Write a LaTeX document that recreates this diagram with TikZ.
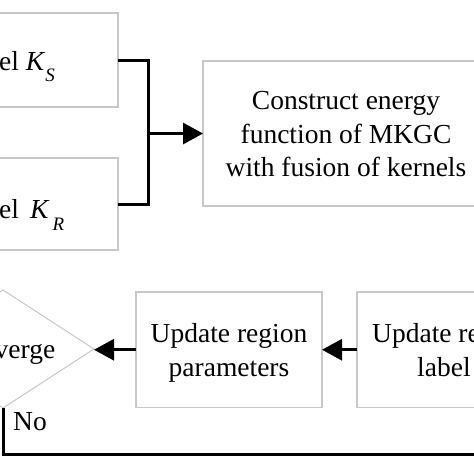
\documentclass[tikz,border=0pt]{standalone}
\usepackage{fontspec}
\setmainfont{Liberation Serif}
\usetikzlibrary{arrows.meta,shapes.geometric}
\definecolor{boxgray}{HTML}{C8C8C8}
\begin{document}
\begin{tikzpicture}[x=1pt,y=-1pt,
  box/.style={draw=boxgray,line width=1.3pt,inner sep=0pt,outer sep=0pt},
  conn/.style={line width=3pt},
  arr/.style={conn,-{Triangle[length=20pt,width=21pt]}},
  txt/.style={font=\fontsize{27.5}{33}\selectfont,inner sep=0pt,text=black},
  subtxt/.style={}]
\useasboundingbox (0,0) rectangle (474,474);
\clip (0,0) rectangle (474,474);
\fill[white] (0,0) rectangle (474,474);
% top left boxes
\node[box,minimum width=128,minimum height=94] (b1) at (54,60) {};
\node[box,minimum width=128,minimum height=92] (b2) at (54,204) {};
\node[txt,anchor=base west] (ks) at (-1,70) {el \textit{K}\raisebox{-11pt}{\fontsize{19}{19}\selectfont\textit{S}}};
\node[txt,anchor=base west] (kr) at (-1,218) {el\hspace{11pt}\textit{K}\raisebox{-12pt}{\fontsize{19}{19}\selectfont\hspace{3pt}\textit{R}}};
% construct box
\node[box,minimum width=286,minimum height=145] (ce) at (346,133.5) {};
\node[txt,anchor=base] (ce1) at (346,109.5) {Construct energy};
\node[txt,anchor=base] (ce2) at (346,143) {function of MKGC};
\node[txt,anchor=base] (ce3) at (346,176.5) {with fusion of kernels};
% bottom row
\node[draw=boxgray,line width=1pt,diamond,minimum width=182,minimum height=118,inner sep=0pt,outer sep=0pt] (dia) at (3,349) {};
\node[txt,anchor=base east] (cv) at (55.5,358) {verge};
\node[box,minimum width=186,minimum height=115.5] (up) at (229,349.75) {};
\node[txt,anchor=base] (up1) at (229,342) {Update region};
\node[txt,anchor=base] (up2) at (229,376.5) {parameters};
\node[box,minimum width=186,minimum height=115.5] (ul) at (450,349.75) {};
\node[txt,anchor=base west] (ul1) at (372,342) {Update re};
\node[txt,anchor=base west] (ul2) at (417,376.5) {label};
\node[txt,anchor=base west] (no) at (13,430) {No};
% connectors
\coordinate (j) at (148,133.5);
\draw[conn] (b1.east) -| (j) |- (b2.east);
\draw[arr] (j) -- (ce.west);
\draw[arr] (ul.west) -- (up.east);
\draw[arr] (up.west) -- (up.west -| dia.east);
\coordinate (fe) at (480,454);
\draw[conn] (dia.south) |- (fe);
\end{tikzpicture}
\end{document}
